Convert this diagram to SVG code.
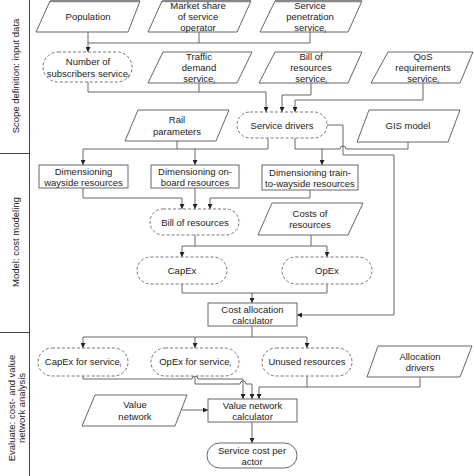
<svg xmlns="http://www.w3.org/2000/svg" width="474" height="476" viewBox="0 0 474 476">
<defs>
<marker id="ah" viewBox="0 0 8 8" refX="8" refY="4" markerWidth="5" markerHeight="5" orient="auto" markerUnits="userSpaceOnUse">
<path d="M0,0 L8,4 L0,8 z" fill="#222"/>
</marker>
</defs>
<style>
text{font-family:"Liberation Sans",Arial,sans-serif;font-size:9.5px;fill:#222;text-anchor:middle}
.sub{font-size:6px}
.par{fill:#fff;stroke:#666;stroke-width:1}
.box{fill:#fff;stroke:#666;stroke-width:1}
.dash{fill:#fff;stroke:#777;stroke-width:1;stroke-dasharray:3,2}
.term{fill:#fff;stroke:#666;stroke-width:1}
.c{fill:none;stroke:#666;stroke-width:1}
.a{fill:none;stroke:#666;stroke-width:1;marker-end:url(#ah)}
.frame{fill:none;stroke:#444;stroke-width:1}
.topedge{stroke:#888;stroke-width:2.5}
</style>
<rect width="474" height="476" fill="#fff"/>
<g id="lanes">
<line class="frame" x1="29.5" y1="0" x2="29.5" y2="476"/>
<line class="frame" x1="0" y1="153.5" x2="29.5" y2="153.5"/>
<line class="frame" x1="0" y1="332.5" x2="29.5" y2="332.5"/>
<text transform="translate(18.5,76) rotate(-90)">Scope definition: input data</text>
<text transform="translate(18.5,242) rotate(-90)">Model: cost modeling</text>
<text transform="translate(14.5,408) rotate(-90)">Evaluate: cost- and value</text>
<text transform="translate(25,408) rotate(-90)">network analysis</text>
</g>
<g id="connectors">
<!-- top inputs to number of subscribers -->
<path class="c" d="M88,32 V43 H310 M199,32 V43 M310,32 V43"/>
<path class="a" d="M88,43 V52"/>
<!-- to service drivers -->
<path class="c" d="M88,82 V92 H266 M199,83 V92"/>
<path class="a" d="M266,92 V112"/>
<path class="a" d="M311,83 V95 H282 V112"/>
<path class="a" d="M423,83 V100 H295 V112"/>
<!-- service drivers / rail to dimensioning -->
<path class="c" d="M177,141 V149 M268,138 V149 H83"/>
<path class="a" d="M83,149 V165"/>
<path class="a" d="M195,149 V165"/>
<path class="c" d="M295,138 V149 H340 A3,3 0 0 1 346,149 H408 V142"/>
<path class="a" d="M322,149 V165"/>
<!-- service drivers to cost allocation -->
<path class="a" d="M327,125 H343 V155 H394 V315 H297"/>
<!-- dimensioning to bill of resources -->
<path class="a" d="M83,188 V198 H182 V209"/>
<path class="a" d="M195,188 V209"/>
<path class="a" d="M310,190 V198 H210 V209"/>
<!-- bill / costs to capex opex -->
<path class="c" d="M195,235 V246 M311,235 V246 M182,246 H327"/>
<path class="a" d="M182,246 V257"/>
<path class="a" d="M327,246 V257"/>
<!-- capex opex to cost allocation -->
<path class="c" d="M182,284 V293 H327 V284"/>
<path class="a" d="M252,293 V303"/>
<!-- cost allocation outputs -->
<path class="c" d="M252,326 V337 M83,337 H307"/>
<path class="a" d="M83,337 V348"/>
<path class="a" d="M195,337 V348"/>
<path class="a" d="M307,337 V348"/>
<!-- to value network calculator -->
<path class="a" d="M83,376 V379 H192 A3,3 0 0 1 198,379 H243 V399"/>
<path class="a" d="M195,376 V384 H240 A3,3 0 0 1 246,384 H252 V399"/>
<path class="c" d="M307,376 V387 M420,377 V387 H259"/>
<path class="a" d="M259,387 V399"/>
<path class="a" d="M182,410 H208"/>
<path class="a" d="M252,422 V443"/>
</g>
<g id="population">
<polygon class="par" points="50,1 140,1 128,32 36,32"/>
<line class="topedge" x1="50" y1="1" x2="140" y2="1"/>
<text x="88" y="19.5">Population</text>
</g>
<g id="market-share">
<polygon class="par" points="162,1 251,1 237,32 148,32"/>
<line class="topedge" x1="162" y1="1" x2="251" y2="1"/>
<text x="198" y="8.5">Market share</text>
<text x="198" y="20">of service</text>
<text x="198" y="31">operator</text>
</g>
<g id="service-penetration">
<polygon class="par" points="275,1 362,1 348,32 260,32"/>
<line class="topedge" x1="275" y1="1" x2="362" y2="1"/>
<text x="310" y="8.5">Service</text>
<text x="310" y="20">penetration</text>
<text x="310" y="31">service<tspan class="sub" dy="1.5">i</tspan></text>
</g>
<g id="number-subscribers">
<rect class="dash" x="43" y="52" width="89" height="30" rx="15"/>
<text x="88" y="65">Number of</text>
<text x="88" y="76.5">subscribers service<tspan class="sub" dy="1.5">i</tspan></text>
</g>
<g id="traffic-demand">
<polygon class="par" points="163,52 252,52 237,83 148,83"/>
<text x="199" y="60">Traffic</text>
<text x="199" y="71">demand</text>
<text x="199" y="82">service<tspan class="sub" dy="1.5">i</tspan></text>
</g>
<g id="bill-resources-service">
<polygon class="par" points="275,52 362,52 348,83 259,83"/>
<text x="311" y="60">Bill of</text>
<text x="311" y="71">resources</text>
<text x="311" y="82">service<tspan class="sub" dy="1.5">i</tspan></text>
</g>
<g id="qos">
<polygon class="par" points="388,52 473,52 460,83 371,83"/>
<text x="423" y="60">QoS</text>
<text x="423" y="71">requirements</text>
<text x="423" y="82">service<tspan class="sub" dy="1.5">i</tspan></text>
</g>
<g id="rail-parameters">
<polygon class="par" points="138,110 229,110 216,141 125,141"/>
<text x="177" y="123">Rail</text>
<text x="177" y="135">parameters</text>
</g>
<g id="service-drivers">
<rect class="dash" x="237" y="112" width="90" height="26" rx="13"/>
<text x="282" y="128.5">Service drivers</text>
</g>
<g id="gis-model">
<polygon class="par" points="369,110 460,110 448,142 357,142"/>
<text x="408" y="129">GIS model</text>
</g>
<g id="dim-wayside">
<rect class="box" x="39" y="165" width="89" height="23"/>
<text x="83.5" y="174.5">Dimensioning</text>
<text x="83.5" y="185.5">wayside resources</text>
</g>
<g id="dim-onboard">
<rect class="box" x="151" y="165" width="88" height="23"/>
<text x="195" y="174.5">Dimensioning on-</text>
<text x="195" y="185.5">board resources</text>
</g>
<g id="dim-train">
<rect class="box" x="262" y="165" width="96" height="25"/>
<text x="310" y="176">Dimensioning train-</text>
<text x="310" y="187">to-wayside resources</text>
</g>
<g id="bill-resources">
<rect class="dash" x="150" y="209" width="89" height="26" rx="13"/>
<text x="195" y="225.5">Bill of resources</text>
</g>
<g id="costs-resources">
<polygon class="par" points="272,203 363,203 348,235 258,235"/>
<text x="310" y="216.5">Costs of</text>
<text x="310" y="228">resources</text>
</g>
<g id="capex">
<rect class="dash" x="137" y="257" width="90" height="27" rx="13.5"/>
<text x="182" y="273.5">CapEx</text>
</g>
<g id="opex">
<rect class="dash" x="282" y="257" width="90" height="27" rx="13.5"/>
<text x="327" y="273.5">OpEx</text>
</g>
<g id="cost-allocation">
<rect class="box" x="208" y="303" width="89" height="23"/>
<text x="252.5" y="312.5">Cost allocation</text>
<text x="252.5" y="323.5">calculator</text>
</g>
<g id="capex-service">
<rect class="dash" x="38" y="348" width="90" height="28" rx="14"/>
<text x="83" y="365">CapEx for service<tspan class="sub" dy="1.5">i</tspan></text>
</g>
<g id="opex-service">
<rect class="dash" x="151" y="348" width="88" height="28" rx="14"/>
<text x="195" y="365">OpEx for service<tspan class="sub" dy="1.5">i</tspan></text>
</g>
<g id="unused-resources">
<rect class="dash" x="262" y="348" width="90" height="28" rx="14"/>
<text x="307" y="365">Unused resources</text>
</g>
<g id="allocation-drivers">
<polygon class="par" points="378,346 472,346 460,377 367,377"/>
<text x="420" y="359.5">Allocation</text>
<text x="420" y="370.5">drivers</text>
</g>
<g id="value-network">
<polygon class="par" points="95,395 187,395 175,426 82,426"/>
<text x="135" y="408">Value</text>
<text x="135" y="419.5">network</text>
</g>
<g id="value-network-calculator">
<rect class="box" x="208" y="399" width="89" height="23"/>
<text x="252.5" y="408.5">Value network</text>
<text x="252.5" y="419.5">calculator</text>
</g>
<g id="service-cost">
<rect class="term" x="207" y="443" width="90" height="25" rx="12.5"/>
<text x="252" y="453.5">Service cost per</text>
<text x="252" y="465">actor</text>
</g>
</svg>
